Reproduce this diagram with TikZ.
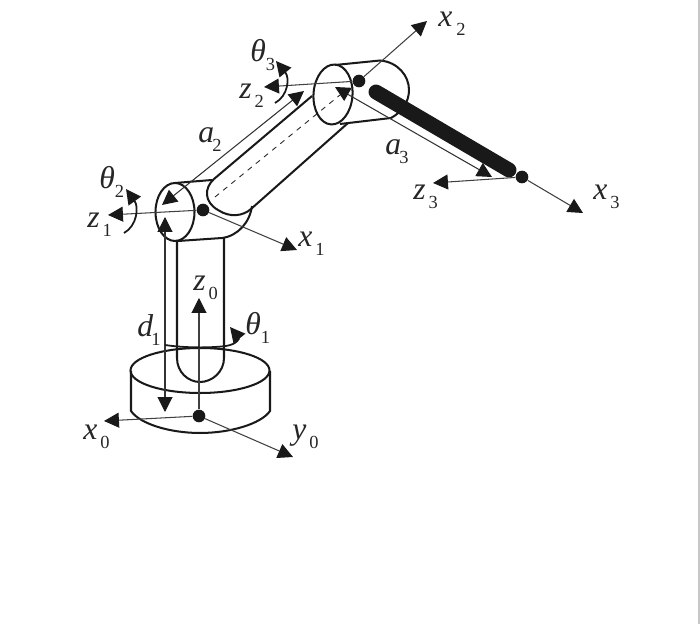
\documentclass[tikz,border=0pt]{standalone}
\usepackage{fontspec}
\newfontfamily\labfont[ItalicFont={Liberation Serif Italic}]{Liberation Serif}
\usetikzlibrary{arrows.meta}
\newcommand{\lbl}[3][1.7pt]{{\labfont\fontsize{18}{18}\selectfont\itshape #2}\kern#1\raisebox{-4.6pt}{\labfont\fontsize{10.5}{10.5}\selectfont #3}}
\tikzset{
  link/.style={line width=1.15pt, black!90},
  axis/.style={line width=0.6pt, black!75, -{Triangle[length=8.5pt,width=8.5pt,color=black!90]}},
  dbl/.style={line width=0.6pt, black!80, {Triangle[length=8.5pt,width=8.5pt,color=black!90]}-{Triangle[length=8.5pt,width=8.5pt,color=black!90]}},
  turn/.style={line width=1pt, black!90, -{Triangle[length=8.5pt,width=8.5pt]}},
  dot/.style={circle, fill=black!90, inner sep=0pt, minimum size=7.2pt},
  lab/.style={inner sep=0pt, text=black!85, anchor=base west}
}
\begin{document}
\begin{tikzpicture}[x=0.02cm,y=-0.02cm]
\useasboundingbox (0,0) rectangle (700,624);
\fill[black!22] (698,0) rectangle (700,624);

% base and column
\draw[link] (200,370.5) ellipse [x radius=69.5, y radius=22.5];
\draw[link] (131,371) -- (131,411) .. controls (140,424) and (170,433) .. (200,433) .. controls (230,433) and (261,424) .. (270,411) -- (270,371);
\draw[link] (177,240) -- (177,358) .. controls (177,372) and (188,382) .. (200,382) .. controls (212,382) and (224,372) .. (224,358) -- (224,238);

% first joint
\draw[link] (175,212) ellipse [x radius=19.5, y radius=29];
\draw[link] (175,183) -- (212,180);
\draw[link] (178,241) -- (222,238) .. controls (238,236) and (250,222) .. (252,206);

% second link
\draw[link] (312,96) -- (214,179) .. controls (204,188) and (204,202) .. (218,210) .. controls (230,218) and (243,216) .. (251,209) -- (348,123);
\draw[line width=0.5pt, dashed, black!85] (215,197) -- (340,95);

% second joint
\draw[link, rotate around={-4:(333,94.5)}] (333,94.5) ellipse [x radius=19.5, y radius=30];
\draw[link] (335,65) -- (380,60.5) .. controls (398,62) and (409,76) .. (409,90) .. controls (409,102) and (402,112) .. (391,118) -- (340,124);

% third link
\draw[line width=8.5pt, line cap=round, black!90] (376,92) -- (509,170);

% frames
\node[dot] at (199,416) (org0) {};
\node[dot] at (203,210) (org1) {};
\node[dot] at (359,81) (org2) {};
\node[dot] at (522,177) (org3) {};

\coordinate (tipx0) at (104,421);
\coordinate (tipy0) at (293,457);
\coordinate (tipz0) at (199,298);
\coordinate (tipx1) at (297,250);
\coordinate (tipz1) at (108,215);
\coordinate (tipx2) at (427,21);
\coordinate (tipz2) at (264,87);
\coordinate (tipx3) at (583,213);
\coordinate (tipz3) at (433,183);

\draw[axis] (org0) -- (tipx0);
\draw[axis] (org0) -- (tipy0);
\draw[axis] (org0) -- (tipz0);
\draw[axis] (org1) -- (tipx1);
\draw[axis] (org1) -- (tipz1);
\draw[axis] (org2) -- (tipx2);
\draw[axis] (org2) -- (tipz2);
\draw[axis] (org3) -- (tipx3);
\draw[axis] (org3) -- (tipz3);

% dimensions
\coordinate (d1top) at (165,217);
\coordinate (d1bot) at (165,412);
\coordinate (a2lo) at (162,205);
\coordinate (a2hi) at (304,91);
\coordinate (a3lo) at (335,87);
\coordinate (a3hi) at (492,177);
\draw[dbl] (d1top) -- (d1bot);
\draw[dbl] (a2lo) -- (a2hi);
\draw[dbl] (a3lo) -- (a3hi);

% rotations
\coordinate (rot1a) at (165,345);
\coordinate (rot1b) at (230,327);
\coordinate (rot2a) at (124,233);
\coordinate (rot2b) at (126,189);
\coordinate (rot3a) at (275,103);
\coordinate (rot3b) at (276,61);
\draw[turn] (rot1a) .. controls (185,348) and (210,348) .. (226,346) .. controls (238,344) and (239,338) .. (rot1b);
\draw[turn] (rot2a) .. controls (137,226) and (139,207) .. (rot2b);
\draw[turn] (rot3a) .. controls (288,96) and (290,78) .. (rot3b);

% labels
\node[lab] at (438,27) (labx2) {\lbl[2.3pt]{x}{2}};
\node[lab] at (250,62) (labth3) {\lbl[0pt]{θ}{3}};
\node[lab] at (239,99) (labz2) {\lbl{z}{2}};
\node[lab] at (198,143) (laba2) {\lbl[-1pt]{a}{2}};
\node[lab] at (385,155) (laba3) {\lbl[-1pt]{a}{3}};
\node[lab] at (413,200) (labz3) {\lbl{z}{3}};
\node[lab] at (593,200) (labx3) {\lbl{x}{3}};
\node[lab] at (298,247) (labx1) {\lbl{x}{1}};
\node[lab] at (99,189) (labth2) {\lbl[0pt]{θ}{2}};
\node[lab] at (87,228) (labz1) {\lbl{z}{1}};
\node[lab] at (193,291) (labz0) {\lbl{z}{0}};
\node[lab] at (245,335) (labth1) {\lbl[0pt]{θ}{1}};
\node[lab] at (137,337) (labd1) {\lbl[-1pt]{d}{1}};
\node[lab] at (83,440) (labx0) {\lbl{x}{0}};
\node[lab] at (292,440) (laby0) {\lbl{y}{0}};
\end{tikzpicture}
\end{document}
